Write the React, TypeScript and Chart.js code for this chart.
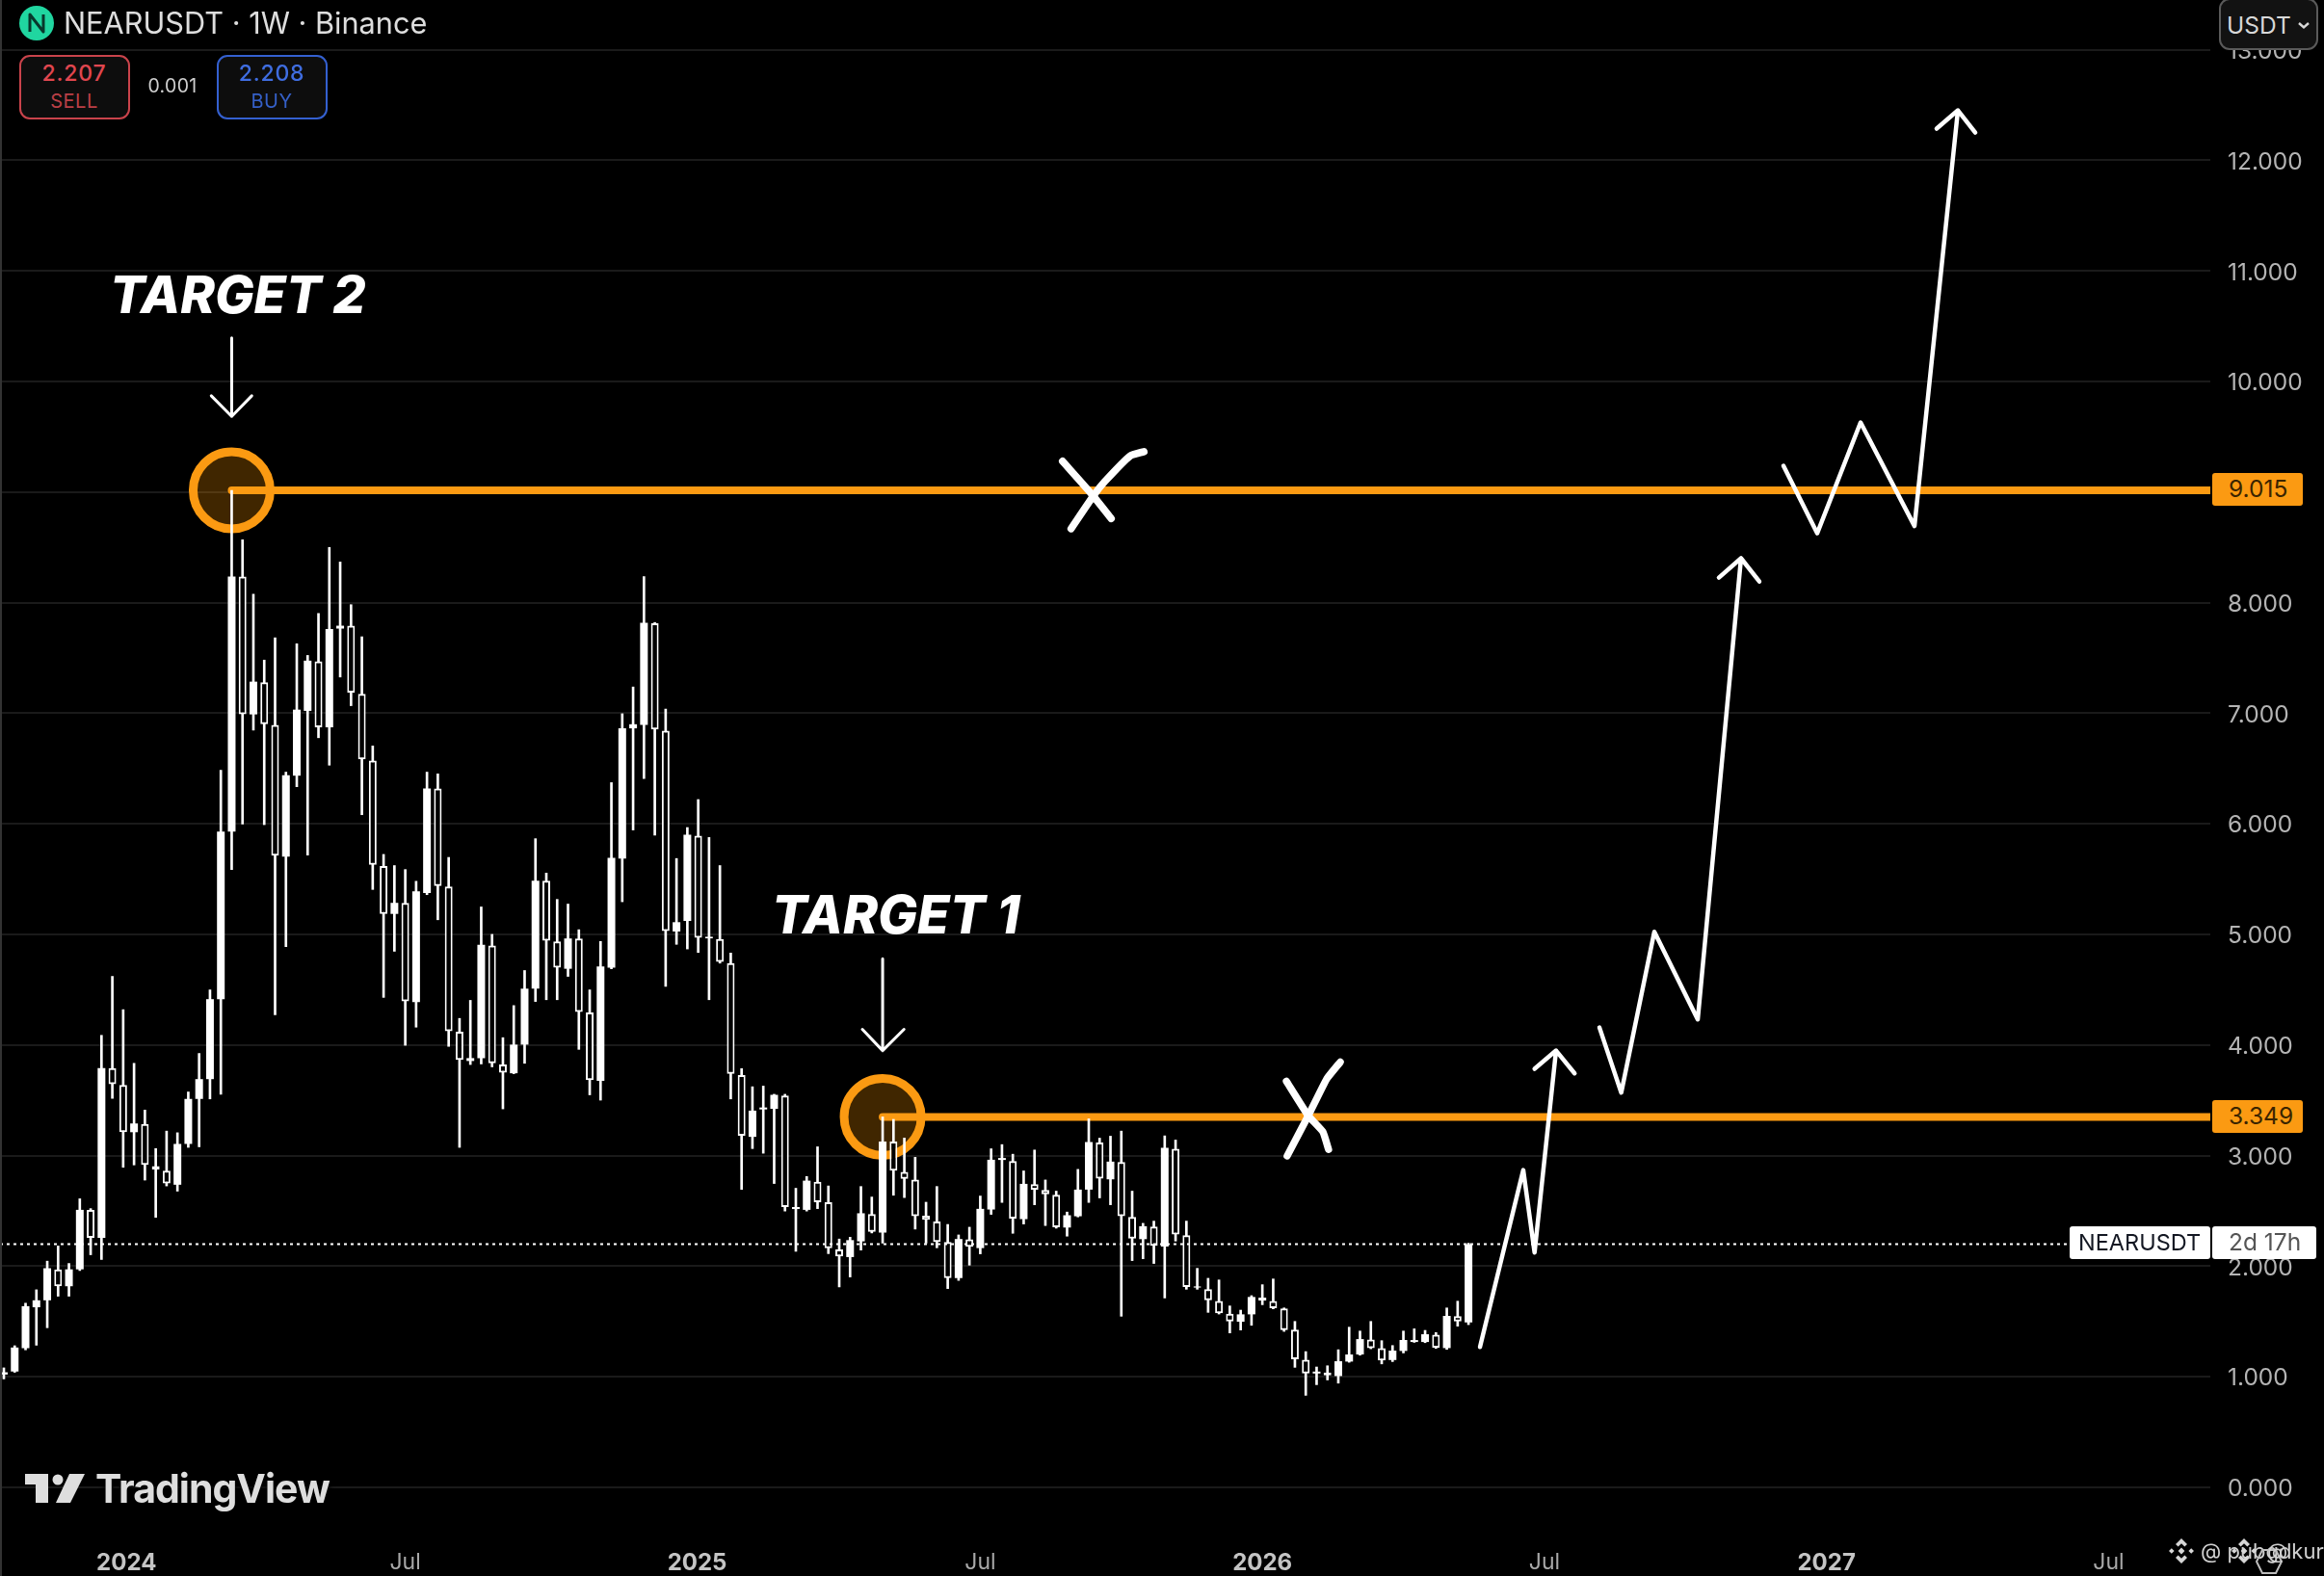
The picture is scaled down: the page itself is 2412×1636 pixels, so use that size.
import React, { useEffect, useRef } from "react";
import { Chart, registerables } from "chart.js";

Chart.register(...registerables);

// ---------- weekly candles, NEARUSDT (index = week number on the chart) ----------
const opens = [
  1.02, 1.047, 1.258, 1.628, 1.691, 1.971, 1.818, 1.971, 2.509, 2.256,
  3.791, 3.638, 3.211, 3.285, 2.905, 2.863, 2.736, 3.105, 3.512, 3.691,
  4.414, 5.929, 8.235, 6.989, 7.279, 6.894, 5.702, 6.435, 7.021, 7.47,
  6.873, 7.765, 7.791, 7.174, 6.572, 5.617, 5.185, 5.285, 4.388, 5.375,
  6.319, 5.432, 4.119, 3.855, 3.881, 4.9, 3.823, 3.744, 4.003, 4.509,
  5.485, 4.936, 4.689, 4.963, 4.293, 3.675, 4.699, 5.686, 6.863, 6.894,
  7.813, 6.842, 5.026, 5.121, 5.892, 4.979, 4.958, 4.741, 3.728, 3.169,
  3.417, 3.422, 3.543, 2.535, 2.509, 2.762, 2.578, 2.15, 2.082, 2.224,
  2.472, 2.303, 3.126, 2.852, 2.783, 2.456, 2.404, 2.219, 1.892, 2.242,
  2.163, 2.512, 2.96, 2.951, 2.425, 2.742, 2.689, 2.646, 2.349, 2.451,
  2.692, 3.117, 2.785, 2.942, 2.445, 2.244, 2.358, 2.178, 3.061, 2.279,
  1.817, 1.791, 1.686, 1.57, 1.497, 1.564, 1.689, 1.686, 1.617, 1.425,
  1.154, 1.029, 1.038, 1.006, 1.137, 1.201, 1.337, 1.259, 1.151, 1.233,
  1.314, 1.314, 1.381, 1.259, 1.547, 1.491,
];
const highs = [
  1.08, 1.28, 1.665, 1.786, 2.045, 2.182, 2.024, 2.609, 2.52, 4.087,
  4.62, 4.319, 3.834, 3.411, 3.063, 3.221, 3.206, 3.575, 3.923, 4.498,
  6.483, 9.015, 8.567, 8.076, 7.48, 7.681, 6.467, 7.628, 7.522, 7.902,
  8.499, 8.367, 7.981, 7.691, 6.704, 5.723, 5.622, 5.586, 5.48, 6.467,
  6.451, 5.696, 4.24, 4.403, 5.248, 5.0, 4.066, 4.356, 4.673, 5.865,
  5.554, 5.316, 5.274, 5.042, 4.498, 4.936, 6.372, 6.995, 7.237, 8.235,
  7.82, 7.037, 5.686, 5.966, 6.219, 5.876, 5.622, 4.831, 3.786, 3.622,
  3.628, 3.554, 3.554, 2.704, 2.81, 3.079, 2.725, 2.245, 2.261, 2.72,
  2.625, 3.349, 3.327, 3.158, 2.984, 2.578, 2.72, 2.377, 2.282, 2.352,
  2.634, 3.061, 3.099, 3.012, 2.861, 3.05, 2.779, 2.678, 2.489, 2.875,
  3.332, 3.157, 3.175, 3.221, 2.678, 2.387, 2.407, 3.178, 3.14, 2.407,
  1.98, 1.89, 1.875, 1.64, 1.602, 1.733, 1.832, 1.884, 1.622, 1.5,
  1.227, 1.088, 1.099, 1.244, 1.448, 1.413, 1.5, 1.326, 1.282, 1.413,
  1.433, 1.419, 1.399, 1.622, 1.683, 2.207,
];
const lows = [
  0.98, 1.04, 1.243, 1.285, 1.443, 1.728, 1.728, 1.96, 2.103, 2.06,
  3.517, 2.894, 2.915, 2.778, 2.441, 2.725, 2.678, 3.074, 3.079, 3.512,
  3.554, 5.586, 5.997, 6.847, 5.992, 4.272, 4.889, 6.335, 5.717, 6.778,
  6.53, 7.327, 7.068, 6.082, 5.406, 4.43, 4.847, 3.997, 4.161, 5.359,
  5.132, 3.987, 3.074, 3.823, 3.828, 3.802, 3.422, 3.74, 3.834, 4.393,
  4.409, 4.409, 4.62, 3.96, 3.549, 3.501, 4.689, 5.295, 5.944, 6.409,
  5.897, 4.53, 4.91, 4.868, 4.836, 4.409, 4.74, 3.512, 2.694, 3.063,
  3.021, 2.747, 2.498, 2.134, 2.498, 2.52, 2.113, 1.812, 1.902, 2.145,
  2.3, 2.208, 2.641, 2.62, 2.335, 2.208, 2.166, 1.797, 1.871, 2.009,
  2.111, 2.468, 2.576, 2.297, 2.381, 2.555, 2.367, 2.343, 2.271, 2.445,
  2.576, 2.617, 2.555, 1.547, 2.05, 2.067, 2.024, 1.712, 2.227, 1.791,
  1.791, 1.582, 1.567, 1.396, 1.422, 1.465, 1.651, 1.614, 1.41, 1.085,
  0.832, 0.928, 0.971, 0.942, 1.131, 1.195, 1.253, 1.116, 1.137, 1.215,
  1.311, 1.308, 1.256, 1.247, 1.457, 1.471,
];
const closes = [
  1.04, 1.264, 1.638, 1.691, 1.981, 1.818, 1.971, 2.509, 2.256, 3.791,
  3.644, 3.211, 3.29, 2.915, 2.873, 2.747, 3.105, 3.512, 3.691, 4.414,
  5.929, 8.235, 6.989, 7.285, 6.9, 5.712, 6.44, 7.032, 7.475, 6.873,
  7.76, 7.791, 7.185, 6.583, 5.628, 5.185, 5.285, 4.393, 5.39, 6.319,
  5.438, 4.124, 3.865, 3.881, 4.905, 3.834, 3.749, 4.003, 4.509, 5.485,
  4.942, 4.699, 4.963, 4.298, 3.681, 4.71, 5.691, 6.863, 6.9, 7.818,
  6.852, 5.031, 5.11, 5.902, 4.968, 4.963, 4.752, 3.739, 3.179, 3.406,
  3.432, 3.549, 2.535, 2.514, 2.773, 2.578, 2.161, 2.087, 2.235, 2.478,
  2.309, 3.126, 2.863, 2.789, 2.451, 2.419, 2.219, 1.892, 2.245, 2.175,
  2.518, 2.962, 2.968, 2.43, 2.744, 2.692, 2.649, 2.352, 2.46, 2.692,
  3.122, 2.791, 2.945, 2.451, 2.25, 2.361, 2.183, 3.07, 2.285, 1.811,
  1.805, 1.692, 1.573, 1.5, 1.564, 1.721, 1.715, 1.62, 1.422, 1.157,
  1.029, 1.041, 1.012, 1.14, 1.201, 1.34, 1.259, 1.146, 1.236, 1.332,
  1.326, 1.384, 1.262, 1.55, 1.5, 2.198,
];

// ---------- axes ----------
const priceTicks = [0, 1, 2, 3, 4, 5, 6, 7, 8, 9, 10, 11, 12, 13];
const timeTickWeeks = [11.3, 37, 63.9, 90, 116, 142, 168, 194];
const timeTickLabels = ["2024", "Jul", "2025", "Jul", "2026", "Jul", "2027", "Jul"];
const timeTickBold = [true, false, true, false, true, false, true, false];

// ---------- levels ----------
const target2Level = 9.015;
const target2Week = 21;
const target1Level = 3.349;
const target1Week = 81;
const lastPrice = 2.198;

// ---------- hand drawn marks, as [week, price] ----------
const forecastA = [[136.06, 1.269], [140.05, 2.869], [141.09, 2.123], [143.07, 3.949], [141.09, 3.784], [143.07, 3.949], [144.78, 3.743]];
const forecastB = [[147.07, 4.158], [149.08, 3.569], [152.13, 5.023], [156.13, 4.231], [160.12, 8.401], [158.08, 8.226], [160.12, 8.401], [161.81, 8.191]];
const forecastC = [[164.03, 9.237], [167.14, 8.627], [171.14, 9.629], [176.11, 8.692], [180.11, 12.451], [178.15, 12.286], [180.11, 12.451], [181.71, 12.251]];
const arrowTarget2 = [[21, 10.393], [21, 9.684], [19.12, 9.87], [21, 9.684], [22.85, 9.87]];
const arrowTarget1 = [[81, 4.779], [81, 3.949], [79.13, 4.141], [81, 3.949], [82.97, 4.141]];
const crossTopA = [[97.58, 9.278], [100.29, 8.978], [102.07, 8.76]];
const crossTopB = [[105.09, 9.365], [103.82, 9.327], [101.48, 9.095], [100.44, 8.967], [98.37, 8.668]];
const crossLowA = [[118.22, 3.671], [120.23, 3.36], [121.58, 3.215], [122.1, 3.055]];
const crossLowB = [[123.18, 3.845], [121.94, 3.694], [120.23, 3.36], [118.29, 2.997]];

const FONT = "Inter, 'Noto Sans', sans-serif";
const ORANGE = "#fb9a12";

const toPoints = (pairs: number[][]) => pairs.map(([x, y]) => ({ x, y }));

const drawn = (pairs: number[][], width: number, tension = 0) => ({
  type: "line" as const,
  data: toPoints(pairs),
  borderColor: "#ffffff",
  borderWidth: width,
  pointRadius: 0,
  tension,
  borderCapStyle: "round" as const,
  borderJoinStyle: "round" as const,
  order: 1,
});

const level = (y: number, fromWeek: number, toWeek: number) => ({
  type: "line" as const,
  data: [{ x: fromWeek, y }, { x: toWeek, y }],
  borderColor: ORANGE,
  borderWidth: 8,
  pointRadius: 0,
  borderCapStyle: "round" as const,
  order: 7,
});

const ring = (x: number, y: number) => ({
  type: "line" as const,
  data: [{ x, y }],
  showLine: false,
  pointRadius: 40,
  pointBorderWidth: 9,
  pointBorderColor: ORANGE,
  pointBackgroundColor: "rgba(255,152,0,0.25)",
  order: 8,
});

const weekMin = -0.355;
const weekMax = 203.375;

function CandleChart() {
  const ref = useRef<HTMLCanvasElement | null>(null);
  useEffect(() => {
    const weeks = opens.map((_, i) => i);
    const ups = weeks.filter((i) => closes[i] >= opens[i]);
    const downs = weeks.filter((i) => closes[i] < opens[i]);
    const bar = (idx: number[], lo: number[], hi: number[]) =>
      idx.map((i) => ({ x: i, y: [lo[i], hi[i]] }));
    const chart = new Chart(ref.current as HTMLCanvasElement, {
      type: "bar",
      data: {
        datasets: [
          ring(target2Week, target2Level),
          ring(target1Week, target1Level),
          level(target2Level, target2Week, weekMax),
          level(target1Level, target1Week, weekMax),
          {
            data: bar(weeks, lows, highs),
            backgroundColor: "#ffffff",
            barThickness: 2,
            grouped: false,
            order: 5,
          },
          {
            data: bar(downs, opens, closes),
            backgroundColor: "#000000",
            borderColor: "#ffffff",
            borderWidth: 2,
            borderSkipped: false,
            inflateAmount: 0,
            barThickness: 8,
            grouped: false,
            order: 4,
          },
          {
            data: bar(ups, opens, closes),
            backgroundColor: "#ffffff",
            borderWidth: 0,
            inflateAmount: 0,
            barThickness: 8,
            minBarLength: 2,
            grouped: false,
            order: 3,
          },
          {
            type: "line",
            data: [{ x: weekMin, y: lastPrice }, { x: weekMax, y: lastPrice }],
            borderColor: "#ffffff",
            borderWidth: 2,
            borderDash: [3, 4],
            pointRadius: 0,
            order: 2,
          },
          drawn(forecastA, 4.5),
          drawn(forecastB, 4.5),
          drawn(forecastC, 4.5),
          drawn(arrowTarget2, 3),
          drawn(arrowTarget1, 3),
          drawn(crossTopA, 7.5, 0.2),
          drawn(crossTopB, 7.5, 0.2),
          drawn(crossLowA, 7.5, 0.12),
          drawn(crossLowB, 7.5, 0.12),
        ] as any,
      },
      options: {
        responsive: false,
        animation: false,
        events: [],
        layout: { padding: 0, autoPadding: false },
        plugins: { legend: { display: false }, tooltip: { enabled: false } },
        scales: {
          x: {
            type: "linear",
            min: weekMin,
            max: weekMax,
            offset: false,
            grid: { display: false },
            border: { display: false },
            afterBuildTicks: (s: any) => {
              s.ticks = timeTickWeeks.map((value) => ({ value }));
            },
            afterFit: (s: any) => {
              s.height = 38;
              s.paddingLeft = 0;
              s.paddingRight = 0;
            },
            ticks: {
              autoSkip: false,
              maxRotation: 0,
              padding: 2,
              color: (c: any) => (timeTickBold[c.index] ? "#c4c4c4" : "#a8a8a8"),
              font: (c: any) => ({
                family: FONT,
                size: timeTickBold[c.index] ? 24 : 23,
                weight: timeTickBold[c.index] ? 700 : 400,
              }),
              callback: (_v: any, i: number) => timeTickLabels[i],
            },
          },
          y: {
            type: "linear",
            position: "right",
            min: -0.471,
            max: 13.449,
            grid: { color: "#1a1a1a", lineWidth: 2, drawTicks: false },
            border: { display: false },
            afterBuildTicks: (s: any) => {
              s.ticks = priceTicks.map((value) => ({ value }));
            },
            afterFit: (s: any) => {
              s.width = 118;
              s.paddingTop = 0;
              s.paddingBottom = 0;
            },
            ticks: {
              padding: 18,
              labelOffset: 2,
              color: "#b4b4b4",
              font: { family: FONT, size: 24.5 },
              callback: (v: any) => Number(v).toFixed(3),
            },
          },
        },
      } as any,
    });
    return () => chart.destroy();
  }, []);
  return (
    <canvas
      ref={ref}
      width={2412}
      height={1636}
      style={{ position: "absolute", left: 0, top: 0, width: 2412, height: 1636, display: "block" }}
    />
  );
}

// A text placed by its baseline. Inter's baseline sits .8635em down a line of height 1.
function Txt(p: {
  x: number; base: number; size: number; color: string; children: React.ReactNode;
  weight?: number; italic?: boolean; anchor?: "start" | "middle"; spacing?: number; shadow?: string;
}) {
  return (
    <span
      style={{
        position: "absolute",
        left: p.x,
        top: p.base - 0.8635 * p.size,
        fontFamily: FONT,
        fontSize: p.size,
        lineHeight: 1,
        fontWeight: p.weight ?? 400,
        fontStyle: p.italic ? "italic" : "normal",
        color: p.color,
        whiteSpace: "pre",
        letterSpacing: p.spacing ?? 0,
        transform: p.anchor === "middle" ? "translateX(-50%)" : undefined,
        textShadow: p.shadow,
      }}
    >
      {p.children}
    </span>
  );
}

function Box(p: { x: number; y: number; w: number; h: number; bg: string; border?: string; radius?: number }) {
  return (
    <div
      style={{
        position: "absolute",
        left: p.x,
        top: p.y,
        width: p.w,
        height: p.h,
        boxSizing: "border-box",
        background: p.bg,
        border: p.border ? `2px solid ${p.border}` : undefined,
        borderRadius: p.radius ?? 3,
      }}
    />
  );
}

function Diamond({ x, y }: { x: number; y: number }) {
  return (
    <svg style={{ position: "absolute", left: x - 14, top: y - 14 }} width={28} height={28} viewBox="0 0 28 28" fill="#d6d6d6">
      <path d="M14 1l6 6-2.6 2.6L14 6.2l-3.4 3.4L8 7zM14 27l-6-6 2.6-2.6 3.4 3.4 3.4-3.4L20 21zM1 14l2.8-2.8L6.6 14l-2.8 2.8zM27 14l-2.8 2.8-2.8-2.8 2.8-2.8zM14 10.6l3.4 3.4-3.4 3.4-3.4-3.4z" />
    </svg>
  );
}

export default function App() {
  return (
    <div style={{ position: "fixed", left: 0, top: 0, width: 2412, height: 1636, background: "#000", overflow: "hidden" }}>
      <CandleChart />
      <div style={{ position: "absolute", left: 0, top: 0, width: 2, height: 1636, background: "#333" }} />

      {/* header */}
      <svg style={{ position: "absolute", left: 20, top: 6 }} width={36} height={36} viewBox="0 0 36 36">
        <circle cx="18" cy="18" r="18" fill="#20d6a0" />
        <path d="M11 27V9l14 18V9" fill="none" stroke="#08382c" strokeWidth="3" strokeLinejoin="round" />
      </svg>
      <Txt x={66} base={36} size={30.7} color="#dedede">NEARUSDT · 1W · Binance</Txt>

      <Box x={20} y={57} w={115} h={67} bg="#0d0d0d" border="#c9434b" radius={11} />
      <Txt x={77} base={85} size={23} color="#e0464f" weight={500} anchor="middle" spacing={0.8}>2.207</Txt>
      <Txt x={77} base={112} size={20} color="#bb3f46" anchor="middle" spacing={0.5}>SELL</Txt>
      <Txt x={179} base={97} size={19.5} color="#cfcfcf" anchor="middle" spacing={0.3}>0.001</Txt>
      <Box x={225} y={57} w={115} h={67} bg="#0d0d0d" border="#3460d0" radius={11} />
      <Txt x={282} base={85} size={23} color="#3f6de0" weight={500} anchor="middle" spacing={0.8}>2.208</Txt>
      <Txt x={282} base={112} size={20} color="#3560c8" anchor="middle" spacing={0.5}>BUY</Txt>

      <Box x={2303} y={-2} w={103} h={54} bg="#121212" border="#5a5a5a" radius={11} />
      <Txt x={2311} base={35} size={24.5} color="#d8d8d8">USDT</Txt>
      <svg style={{ position: "absolute", left: 2384, top: 22 }} width={14} height={9} viewBox="0 0 14 9">
        <path d="M2 2l5 4.5L12 2" fill="none" stroke="#d8d8d8" strokeWidth="2.4" />
      </svg>

      {/* notes */}
      <Txt x={114} base={326} size={54} color="#ffffff" weight={800} italic>TARGET 2</Txt>
      <Txt x={801} base={969} size={54.5} color="#ffffff" weight={800} italic>TARGET 1</Txt>

      {/* price tags */}
      <Box x={2296} y={491} w={94} h={34} bg={ORANGE} />
      <Txt x={2313} base={516.5} size={24.5} color="#3a2400">9.015</Txt>
      <Box x={2296} y={1142} w={94} h={34} bg={ORANGE} />
      <Txt x={2313} base={1167.5} size={24.5} color="#3a2400">3.349</Txt>
      <Box x={2148} y={1273} w={146} h={34} bg="#ffffff" />
      <Txt x={2157} base={1298.5} size={23.5} color="#131722">NEARUSDT</Txt>
      <Box x={2296} y={1273} w={108} h={34} bg="#ffffff" />
      <Txt x={2313} base={1298.5} size={24.5} color="#555555">2d 17h</Txt>

      {/* TradingView mark */}
      <svg style={{ position: "absolute", left: 26, top: 1530 }} width={62} height={31} viewBox="0 0 62 31" fill="#dedede">
        <path d="M0 0h24v30H11V11H0z" />
        <circle cx="34" cy="6" r="5.5" />
        <path d="M46 0h16L47 30H32z" />
      </svg>
      <Txt x={99} base={1560} size={41} color="#dedede" weight={700} spacing={-1} shadow="0 0 6px #000, 0 0 6px #000">TradingView</Txt>

      {/* overlapping site watermarks */}
      <Diamond x={2264} y={1610} />
      <Txt x={2284} base={1618} size={22} color="#d0d0d0">@ pubgdkuri</Txt>
      <Diamond x={2329} y={1610} />
      <svg style={{ position: "absolute", left: 2341, top: 1606 }} width={28} height={30} viewBox="0 0 28 30">
        <path d="M7 3h14l6 12-6 12H7L1 15z" fill="none" stroke="#bdbdbd" strokeWidth="2" />
      </svg>
      <Txt x={2353} base={1618} size={22} color="#d0d0d0">@</Txt>
    </div>
  );
}
